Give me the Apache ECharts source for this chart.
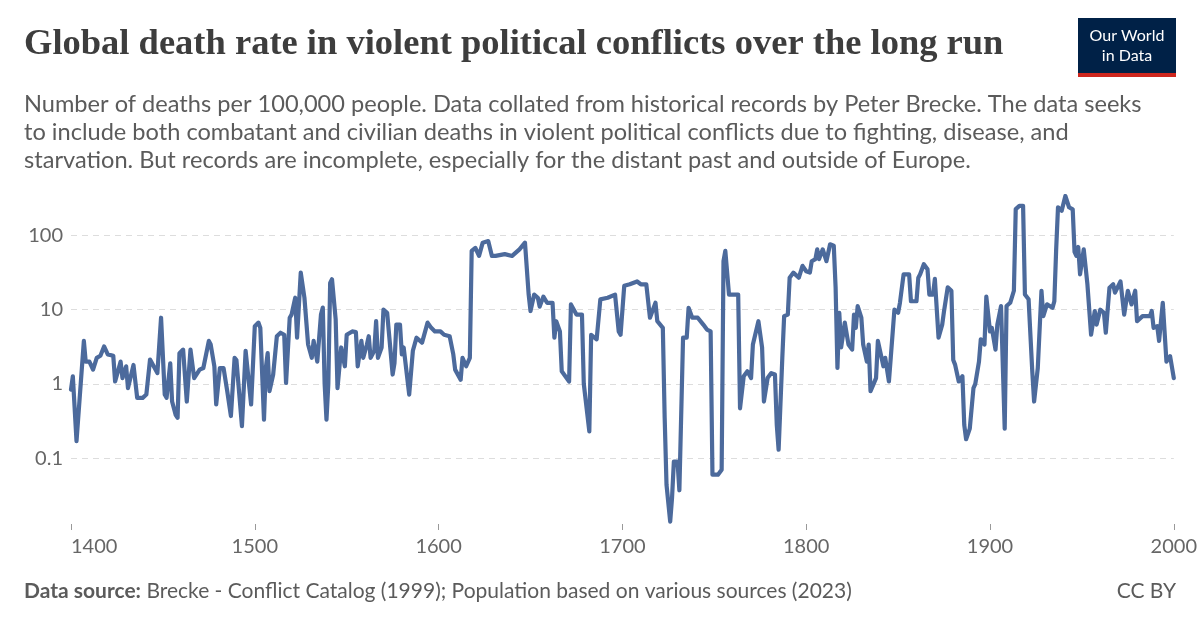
<!DOCTYPE html>
<html>
<head>
<meta charset="utf-8">
<script src="https://cdn.jsdelivr.net/npm/echarts@6/dist/echarts.min.js"></script>
<style>
  html, body { margin: 0; padding: 0; background: #fff; }
  #chart { width: 1200px; height: 627px; }
</style>
</head>
<body>
<div id="chart"></div>
<script>
// Global death rate in violent political conflicts, deaths per 100,000 (log scale)
const years = [
  1400, 1401, 1403, 1407, 1408, 1410, 1412, 1414, 1416, 1418, 1420, 1423, 1424, 1427, 1428, 1430,
  1431, 1434, 1436, 1439, 1441, 1443, 1444, 1447, 1449, 1450, 1451, 1452, 1454, 1455, 1457, 1458,
  1459, 1461, 1463, 1465, 1467, 1470, 1472, 1475, 1476, 1478, 1479, 1481, 1483, 1485, 1487, 1489,
  1490, 1493, 1495, 1498, 1500, 1502, 1503, 1505, 1506, 1507, 1508, 1510, 1511, 1512, 1514, 1516,
  1517, 1518, 1519, 1520, 1522, 1523, 1525, 1526, 1527, 1529, 1531, 1532, 1534, 1536, 1537, 1538,
  1539, 1540, 1541, 1542, 1544, 1545, 1547, 1549, 1550, 1553, 1555, 1556, 1558, 1559, 1561, 1562,
  1563, 1565, 1566, 1567, 1569, 1570, 1572, 1575, 1576, 1577, 1579, 1580, 1581, 1584, 1586, 1588,
  1591, 1594, 1596, 1598, 1601, 1603, 1606, 1608, 1609, 1612, 1613, 1615, 1617, 1618, 1620, 1622,
  1624, 1627, 1629, 1631, 1636, 1640, 1644, 1647, 1648, 1649, 1650, 1652, 1654, 1655, 1657, 1659,
  1662, 1663, 1664, 1666, 1667, 1671, 1672, 1675, 1678, 1679, 1682, 1683, 1686, 1688, 1692, 1696,
  1698, 1699, 1701, 1704, 1708, 1710, 1713, 1715, 1718, 1719, 1722, 1723, 1724, 1726, 1727, 1728,
  1730, 1731, 1732, 1733, 1735, 1736, 1738, 1741, 1742, 1744, 1746, 1748, 1749, 1752, 1754, 1755,
  1756, 1758, 1763, 1764, 1766, 1768, 1770, 1771, 1772, 1774, 1776, 1777, 1779, 1781, 1783, 1784,
  1785, 1787, 1788, 1790, 1791, 1793, 1796, 1798, 1800, 1802, 1803, 1805, 1806, 1807, 1809, 1811,
  1813, 1815, 1816, 1817, 1818, 1819, 1821, 1823, 1825, 1826, 1827, 1828, 1830, 1831, 1833, 1834,
  1835, 1838, 1839, 1840, 1842, 1843, 1845, 1846, 1848, 1850, 1851, 1852, 1853, 1856, 1857, 1860,
  1861, 1862, 1864, 1866, 1867, 1869, 1870, 1872, 1874, 1875, 1877, 1879, 1880, 1881, 1883, 1885,
  1886, 1887, 1889, 1891, 1892, 1894, 1895, 1897, 1898, 1900, 1901, 1903, 1904, 1906, 1908, 1909,
  1911, 1913, 1914, 1916, 1918, 1919, 1921, 1923, 1924, 1926, 1928, 1929, 1931, 1934, 1935, 1936,
  1937, 1939, 1941, 1943, 1945, 1946, 1947, 1948, 1949, 1951, 1953, 1955, 1957, 1958, 1960, 1962,
  1963, 1965, 1967, 1968, 1971, 1973, 1975, 1977, 1979, 1980, 1983, 1987, 1988, 1989, 1991, 1992,
  1994, 1996, 1998, 1999, 2000
];
const deathRate = [
  0.84, 1.27, 0.17, 3.8, 2.0, 2.0, 1.56, 2.25, 2.4, 3.2, 2.5, 2.4, 1.08, 2.0, 1.2, 1.73,
  0.88, 1.8, 0.65, 0.65, 0.72, 2.13, 2.25, 1.4, 7.8, 7.8, 0.72, 0.65, 1.9, 0.58, 0.38, 0.35,
  2.6, 2.9, 0.58, 2.9, 1.2, 1.56, 1.64, 3.8, 3.4, 1.73, 0.53, 1.64, 1.64, 0.8, 0.37, 2.25,
  2.1, 0.27, 2.8, 0.53, 6.0, 6.7, 5.7, 0.33, 1.64, 2.6, 0.8, 1.34, 1.34, 4.4, 4.9, 4.6,
  1.03, 1.03, 7.8, 8.6, 14.5, 4.2, 31.6, 30, 14.5, 3.4, 2.25, 3.8, 2.0, 8.6, 10.7, 1.0,
  0.33, 1.0, 23, 25.7, 7.4, 0.88, 3.1, 1.73, 4.6, 5.1, 5.0, 1.73, 3.8, 2.25, 3.4, 4.4,
  2.25, 2.8, 7.0, 2.25, 3.1, 10, 9.1, 1.34, 1.9, 6.3, 6.3, 2.5, 3.1, 0.72, 2.8, 4.2,
  3.6, 6.7, 5.7, 5.1, 5.1, 4.6, 4.4, 2.5, 1.56, 1.14, 2.25, 1.73, 2.25, 62, 68, 53,
  80, 84, 53, 53, 56, 53, 65, 80, 85, 16, 9.6, 16, 14.5, 11, 15, 12.4,
  12.4, 4.2, 7.0, 5.1, 1.48, 1.08, 11.8, 8.6, 8.6, 1.0, 0.23, 4.6, 4.0, 13.8, 14.5, 16,
  5.1, 4.6, 21, 22, 24, 22, 22, 7.8, 12.4, 7.0, 5.7, 0.35, 0.044, 0.014, 0.029, 0.09,
  0.09, 0.037, 0.037, 4.2, 4.2, 10.6, 7.8, 7.8, 7.4, 6.3, 5.4, 5.1, 0.06, 0.06, 0.07, 45,
  62, 16, 16, 0.47, 1.27, 1.48, 1.2, 3.4, 3.4, 7.0, 3.1, 0.58, 1.2, 1.4, 1.34, 0.28,
  0.13, 2.25, 8.2, 8.6, 27, 31.6, 27, 39, 33, 31.6, 45, 48, 65, 48, 65, 45,
  76, 73, 20, 1.64, 9.1, 3.1, 6.7, 3.4, 2.9, 8.6, 5.7, 11.2, 7.8, 3.4, 2.0, 3.4,
  0.8, 1.2, 3.8, 3.8, 1.73, 2.25, 1.08, 2.25, 10, 9.1, 12.4, 13, 30, 30, 13, 13,
  27, 30, 41, 35, 16, 16, 26, 4.2, 6.3, 9.6, 20, 18, 2.1, 1.82, 1.08, 1.27,
  0.28, 0.18, 0.25, 0.88, 1.0, 2.0, 4.0, 3.4, 15, 5.1, 5.7, 2.9, 6.3, 11.2, 0.25, 11.2,
  12.4, 18, 226, 250, 250, 16, 13.8, 1.48, 0.58, 1.64, 18, 8.2, 11.8, 10.6, 13, 65,
  240, 215, 340, 240, 225, 60, 53, 70, 30, 65, 22, 4.6, 9.6, 6.3, 10, 9.1,
  4.9, 19.8, 22, 17, 24, 8.6, 18, 11.8, 18, 7.0, 8.2, 8.2, 9.6, 5.7, 6.0, 3.8,
  12.4, 2.0, 2.36, 2.36, 1.2
];
const yTicks = [0.1, 1, 10, 100];

const chart = echarts.init(document.getElementById('chart'));
const grey = '#5b5b5b';

chart.setOption({
  animation: false,
  backgroundColor: '#fff',
  grid: { left: 71, right: 26, top: 196, bottom: 103 },
  xAxis: {
    type: 'value', min: 1400, max: 2000, interval: 100,
    axisLine: { show: false },
    axisTick: { show: true, length: 6, lineStyle: { color: '#999' } },
    splitLine: { show: false },
    axisLabel: {
      color: '#666', fontSize: 20, fontFamily: 'Lato', margin: 13,
      alignMinLabel: 'left',
      formatter: v => String(v)
    }
  },
  yAxis: {
    type: 'log', logBase: 10, min: 0.013, max: 340,
    axisLine: { show: false },
    axisTick: { show: false },
    splitLine: { show: false },
    axisLabel: { show: false }
  },
  series: [{
    type: 'line',
    data: years.map((y, i) => [y, deathRate[i]]),
    showSymbol: false,
    lineStyle: { color: '#4c6a9c', width: 4.2, join: 'round', cap: 'round' },
    z: 3,
    markLine: {
      silent: true, symbol: 'none', z: 1,
      lineStyle: { color: '#dddddd', type: [6, 5], width: 1 },
      label: {
        show: true, position: 'start', distance: 8,
        color: '#666', fontSize: 20, fontFamily: 'Lato',
        formatter: p => String(p.value)
      },
      data: yTicks.map(v => ({ yAxis: v }))
    }
  }],
  graphic: [
    {
      type: 'text', x: 24, y: 45,
      style: {
        text: 'Global death rate in violent political conflicts over the long run',
        font: 'bold 36.5px "Liberation Serif", serif', fill: '#3d3d3d',
        verticalAlign: 'middle'
      }
    },
    {
      type: 'text', left: 24, top: 90,
      style: {
        text: 'Number of deaths per 100,000 people. Data collated from historical records by Peter Brecke. The data seeks\n' +
              'to include both combatant and civilian deaths in violent political conflicts due to fighting, disease, and\n' +
              'starvation. But records are incomplete, especially for the distant past and outside of Europe.',
        font: '23.6px Lato', fill: grey, lineHeight: 28
      }
    },
    { type: 'rect', shape: { x: 1078, y: 18, width: 98, height: 59 }, style: { fill: '#002147' } },
    { type: 'rect', shape: { x: 1078, y: 73, width: 98, height: 4 }, style: { fill: '#ce261e' } },
    {
      type: 'text', x: 1127, y: 46,
      style: {
        text: 'Our World\nin Data', font: '16px Lato', fill: '#fff',
        align: 'center', verticalAlign: 'middle', lineHeight: 20
      }
    },
    {
      type: 'text', x: 24, y: 591,
      style: {
        text: '{b|Data source:} Brecke - Conflict Catalog (1999); Population based on various sources (2023)',
        font: '21px Lato', fill: grey, verticalAlign: 'middle',
        rich: { b: { fontWeight: 'bold', fontSize: 21, fontFamily: 'Lato', fill: grey } }
      }
    },
    {
      type: 'text', x: 1176, y: 591,
      style: { text: 'CC BY', font: '21px Lato', fill: grey, align: 'right', verticalAlign: 'middle' }
    }
  ]
});
</script>
</body>
</html>
